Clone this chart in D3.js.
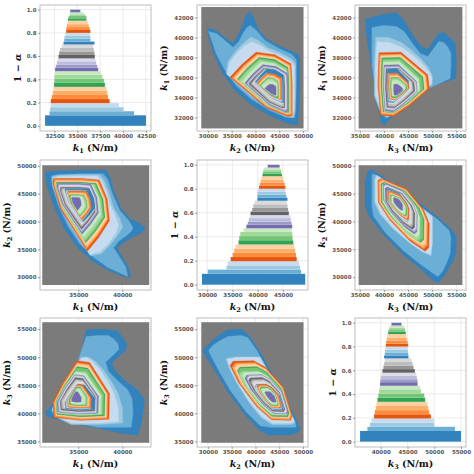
<!DOCTYPE html>
<html>
<head>
<meta charset="utf-8">
<title>fuzzy stiffness pairs</title>
<style>
  body { margin: 0; background: #fff; }
</style>
</head>
<body>
<script src="https://cdn.jsdelivr.net/npm/d3@7"></script>
<script>
// 1 - alpha : lower edge of every cut (the last one runs up to 1.0)
var levels = [0, 0.09, 0.125, 0.16, 0.195, 0.23, 0.265, 0.30, 0.335, 0.37, 0.405, 0.44,
  0.47, 0.50, 0.525, 0.555, 0.58, 0.61, 0.64, 0.67, 0.70, 0.725, 0.75, 0.775,
  0.80, 0.825, 0.85, 0.875, 0.905, 0.925, 0.945, 0.96, 0.977];

// interval of each parameter at every cut (N/m)
var k1Lo = [31470, 31950, 32020, 32100, 32100, 32210, 32320, 32390, 32460, 32500, 32500, 32570,
  32570, 32650, 32760, 32830, 32940, 33010, 33120, 33310, 33490, 33570, 33600, 33680,
  33790, 33790, 33860, 33930, 33970, 34040, 34150, 34150, 34230];
var k1Hi = [42500, 41210, 40040, 39560, 38530, 38350, 38270, 38200, 38010, 37900, 37720, 37540,
  37280, 37170, 37060, 36990, 36910, 36870, 36800, 36730, 36870, 36430, 36430, 36360,
  36430, 36360, 36250, 36140, 35990, 35990, 35880, 35700, 35330];
var k2Lo = [28990, 30140, 33850, 34060, 34660, 35070, 35340, 35610, 36220, 36350, 36560, 37230,
  37770, 38040, 38250, 38450, 38590, 38920, 39130, 39400, 39940, 39940, 39940, 40070,
  40280, 40410, 40610, 40750, 40950, 41020, 41150, 41290, 41970];
var k2Hi = [49400, 48590, 48390, 48180, 47710, 47580, 47370, 47240, 47040, 46900, 46830, 46700,
  46830, 46700, 46560, 46490, 46160, 46020, 45890, 45750, 45890, 45680, 45550, 45480,
  45480, 45350, 45140, 45010, 44800, 44670, 44670, 44530, 44330];
var k3Lo = [36130, 37500, 38000, 38250, 38750, 38880, 39060, 39190, 39380, 39560, 39690, 39750,
  39880, 39940, 40000, 40130, 40310, 40500, 40630, 40750, 40630, 40750, 40810, 40880,
  40940, 41000, 41130, 41250, 41380, 41440, 41560, 41630, 42000];
var k3Hi = [55000, 53880, 50000, 50000, 49380, 49060, 48880, 48750, 48310, 48130, 47500, 47380,
  46880, 46880, 46750, 46630, 46380, 46130, 45940, 45750, 45190, 45130, 45060, 45000,
  45130, 45000, 44880, 44750, 44690, 44560, 44500, 44380, 43880];

var tab20c = ["#3182bd", "#6baed6", "#9ecae1", "#c6dbef", "#e6550d", "#fd8d3c", "#fdae6b", "#fdd0a2",
  "#31a354", "#74c476", "#a1d99b", "#c7e9c0", "#756bb1", "#9e9ac8", "#bcbddc", "#dadaeb",
  "#636363", "#969696", "#bdbdbd", "#d9d9d9"];

// tick labels
var alphaTicks = [0, 0.2, 0.4, 0.6, 0.8, 1.0];
var diagTicks = [[32500, 35000, 37500, 40000, 42500], [30000, 35000, 40000, 45000], [40000, 45000, 50000, 55000]];
var offXTicks = [[35000, 40000], [30000, 35000, 40000, 45000, 50000], [35000, 40000, 45000, 50000, 55000]];
var offYTicks = [[32000, 34000, 36000, 38000, 40000, 42000], [30000, 35000, 40000, 45000, 50000], [35000, 40000, 45000, 50000, 55000]];

// axis ranges and the sampled grid (grey) for every parameter
var diagDomain = [[30919, 43051], [28000, 49950], [35181, 55944]];
var alphaDomain = [-0.045, 1.04];
var offDomain = [[30644, 43254], [27700, 51045], [34000, 57000]];
var gridK1 = [30900, 43050], gridK2 = [28600, 50100], gridK3 = [34750, 56250];

// outer cuts (levels 0-3) of each pair, points as [first k, second k]
var outerK1K2 = [
  [[42576, 38814], [42000, 39647], [40814, 40549], [39864, 42284], [39118, 45060], [38508, 48183], [38102, 49224],
   [35390, 49224], [32677, 49085], [31254, 48877], [31389, 46795], [32169, 42978], [33355, 38814], [34881, 35344],
   [36576, 32915], [38441, 31180], [39966, 30200], [40983, 29900], [40644, 31874], [39966, 33609], [39400, 35200],
   [39966, 36038], [40983, 37079], [42170, 37981]],
  [[41213, 38900], [40700, 40200], [39700, 42000], [38900, 44900], [38300, 47700], [37800, 48590], [35300, 48590],
   [32700, 48450], [31950, 48200], [32000, 46600], [32700, 43000], [33800, 39200], [35200, 35900], [36800, 33500],
   [38400, 31700], [39700, 30800], [40600, 30140], [40400, 31800], [39700, 33600], [39000, 35300], [39600, 36500],
   [40500, 37500], [41000, 38200]],
  [[40036, 39000], [39700, 40600], [39000, 42500], [38500, 45100], [37900, 47500], [37400, 48390], [35000, 48390],
   [32700, 48300], [32020, 48000], [32100, 46300], [32900, 43000], [34000, 39400], [35300, 36200], [36400, 33850],
   [37600, 34200], [38600, 35800], [39400, 37400]],
  [[39560, 39300], [39200, 41000], [38600, 43000], [38200, 45300], [37600, 47500], [37100, 48185], [35000, 48185],
   [32800, 48100], [32100, 47800], [32200, 46200], [33000, 43000], [34100, 39500], [35400, 36400], [36300, 34055],
   [37500, 34600], [38500, 36200], [39200, 37800]]
];
var outerK1K3 = [
  [[41831, 36096], [42237, 39110], [42509, 42535], [41661, 44248], [40204, 45960], [39119, 47673], [38780, 49043],
   [39627, 50207], [40407, 51303], [40475, 52468], [39966, 53632], [39458, 54728], [37763, 55002], [35898, 54865],
   [35390, 51440], [34712, 48015], [33356, 44590], [32169, 41850], [31254, 40138], [31491, 39453], [33697, 38425],
   [37085, 37398], [39797, 36507]],
  [[41000, 37500], [41213, 40000], [41100, 42600], [40600, 44200], [39400, 45900], [38400, 47500], [38100, 49100],
   [38900, 50300], [39600, 51400], [39500, 52400], [39000, 53300], [38400, 53875], [37200, 53875], [35900, 53700],
   [35300, 51000], [34600, 47800], [33400, 44600], [32400, 42200], [31950, 40500], [32300, 39500], [34000, 38500],
   [37200, 37500], [39700, 37500]],
  [[40036, 38300], [40000, 41000], [39500, 43600], [38700, 45800], [37800, 47800], [37000, 49200], [36200, 50000],
   [35300, 50000], [34600, 47800], [33400, 44700], [32400, 42300], [32020, 40600], [32600, 39200], [34200, 38000],
   [37500, 38000]],
  [[39560, 38600], [39500, 41200], [39000, 43700], [38300, 45800], [37500, 47700], [36600, 49300], [35900, 50000],
   [35300, 49800], [34500, 47500], [33300, 44600], [32300, 42300], [32100, 40700], [32600, 39400], [34300, 38250],
   [37500, 38250]]
];
var outerK2K3 = [
  [[49379, 37317], [48634, 38721], [46336, 42582], [43666, 46794], [40871, 51006], [38698, 53814], [37145, 55007],
   [34040, 54866], [32177, 53814], [30625, 52761], [29010, 51357], [29383, 50304], [31557, 47496], [34040, 43986],
   [37766, 39774], [40871, 36966], [42734, 36123], [47081, 36123], [48944, 36615]],
  [[48590, 37700], [47900, 39200], [45700, 43000], [43000, 47000], [40300, 51200], [38400, 53500], [37000, 53875],
   [34200, 53700], [32400, 52900], [31000, 52100], [30140, 51200], [30600, 50300], [32500, 47300], [34800, 44000],
   [38000, 40300], [41000, 37800], [43000, 37500], [47000, 37500], [48300, 37500]],
  [[48390, 38300], [47700, 39600], [45500, 43200], [43000, 47000], [41000, 50000], [36000, 50000], [33850, 49800],
   [34500, 48000], [36000, 45500], [38600, 42000], [41200, 39200], [43500, 38000], [47500, 38000]],
  [[48185, 38600], [47500, 39900], [45300, 43400], [42800, 47200], [40800, 50000], [36000, 50000], [34055, 49600],
   [34700, 47900], [36200, 45400], [38800, 42000], [41400, 39400], [43600, 38250], [47400, 38250]]
];

// shape of the inner cuts, as a fraction of each cut's two intervals
var coreK1K2 = [[0.61, 0], [0.81, 0.19], [1.0, 0.42], [0.96, 0.72], [0.82, 0.98], [0.51, 1.0], [0.01, 1.0],
  [0, 0.93], [0.14, 0.58], [0.40, 0.26]];
var coreK1K3 = [[0.5, 0], [0.99, 0.02], [1.0, 0.45], [0.65, 0.97], [0.43, 1.0], [0.17, 0.62], [0, 0.3], [0.02, 0.05]];
var coreK2K3 = [[0.976, 0], [1.0, 0.07], [0.855, 0.56], [0.57, 0.89], [0.38, 1.0], [0.047, 0.99], [0, 0.92],
  [0.14, 0.625], [0.43, 0.23], [0.67, 0.01]];

var loArr = [k1Lo, k2Lo, k3Lo], hiArr = [k1Hi, k2Hi, k3Hi];
var grids = [gridK1, gridK2, gridK3];
var pairs = {
  "0,1": { outer: outerK1K2, core: coreK1K2 },
  "0,2": { outer: outerK1K3, core: coreK1K3 },
  "1,2": { outer: outerK2K3, core: coreK2K3 }
};

var svg = d3.select('body').append('svg').attr('width', 474).attr('height', 474);

var colL = [40, 197, 355], colR = [151, 308, 466];
var rowT = [5, 160, 318], rowB = [131, 290, 447];
var serif = '"DejaVu Serif", serif';
var sans = '"DejaVu Sans", sans-serif';

function kLabel(sel, n) {
    sel.attr('font-family', serif).attr('font-weight', 'bold').attr('font-size', '9.5px').attr('fill', '#111');
    sel.append('tspan').attr('font-style', 'italic').text('k');
    sel.append('tspan').attr('font-size', '6.5px').attr('dy', 2).text(n);
    sel.append('tspan').attr('dy', -2).text(' (N/m)');
}

function styleAxis(g) {
    g.select('.domain').remove();
    g.selectAll('.tick line').attr('stroke', '#777').attr('stroke-width', 0.7);
    g.selectAll('.tick text').attr('font-family', sans).attr('font-size', '5.5px')
        .attr('font-weight', 'bold').attr('fill', '#555');
}

function drawPanel(r, c) {
    var diag = r == c;
    var x = d3.scaleLinear().domain(diag ? diagDomain[c] : offDomain[c]).range([colL[c], colR[c]]);
    var y = d3.scaleLinear().domain(diag ? alphaDomain : offDomain[r]).range([rowB[r], rowT[r]]);
    var xt = diag ? diagTicks[c] : offXTicks[c];
    var yt = diag ? alphaTicks : offYTicks[r];
    var g = svg.append('g');

    // grid
    g.selectAll('.gx').data(xt).enter().append('line')
        .attr('x1', d => x(d)).attr('x2', d => x(d)).attr('y1', rowT[r]).attr('y2', rowB[r])
        .attr('stroke', '#e3e3e3').attr('stroke-width', 0.7);
    g.selectAll('.gy').data(yt).enter().append('line')
        .attr('y1', d => y(d)).attr('y2', d => y(d)).attr('x1', colL[c]).attr('x2', colR[c])
        .attr('stroke', '#e3e3e3').attr('stroke-width', 0.7);

    if (diag) {
        var lo = loArr[c], hi = hiArr[c];
        g.selectAll('.bar').data(levels).enter().append('rect')
            .attr('x', (d, i) => x(lo[i]))
            .attr('width', (d, i) => x(hi[i]) - x(lo[i]))
            .attr('y', (d, i) => y(i + 1 < levels.length ? levels[i + 1] : 1.0))
            .attr('height', (d, i) => y(d) - y(i + 1 < levels.length ? levels[i + 1] : 1.0))
            .attr('fill', (d, i) => tab20c[i % 20]);
    } else {
        var a = Math.min(r, c), b = Math.max(r, c);
        var pair = pairs[a + ',' + b];
        // x shows parameter c, y parameter r
        var px = c == a ? 0 : 1, py = 1 - px;
        g.append('rect')
            .attr('x', x(grids[c][0])).attr('width', x(grids[c][1]) - x(grids[c][0]))
            .attr('y', y(grids[r][1])).attr('height', y(grids[r][0]) - y(grids[r][1]))
            .attr('fill', '#7b7b7b');
        var polys = pair.outer.slice();
        for (var i = pair.outer.length; i < levels.length; i++) {
            polys.push(pair.core.map(function (p) {
                return [loArr[a][i] + p[0] * (hiArr[a][i] - loArr[a][i]),
                        loArr[b][i] + p[1] * (hiArr[b][i] - loArr[b][i])];
            }));
        }
        var line = d3.line().x(p => x(p[px])).y(p => y(p[py])).curve(d3.curveLinearClosed);
        g.selectAll('.cut').data(polys).enter().append('path')
            .attr('d', line)
            .attr('fill', (d, i) => tab20c[i % 20])
            .attr('stroke', (d, i) => tab20c[i % 20])
            .attr('stroke-width', 0.4);
    }

    // frame
    g.append('rect').attr('x', colL[c]).attr('y', rowT[r])
        .attr('width', colR[c] - colL[c]).attr('height', rowB[r] - rowT[r])
        .attr('fill', 'none').attr('stroke', '#b5b5b5').attr('stroke-width', 0.9);

    var xa = g.append('g').attr('transform', 'translate(0,' + rowB[r] + ')')
        .call(d3.axisBottom(x).tickValues(xt).tickSize(2).tickPadding(1.5).tickFormat(d3.format('d')));
    styleAxis(xa);
    var ya = g.append('g').attr('transform', 'translate(' + colL[c] + ',0)')
        .call(d3.axisLeft(y).tickValues(yt).tickSize(2).tickPadding(1.5)
            .tickFormat(diag ? d3.format('.1f') : d3.format('d')));
    styleAxis(ya);

    var cx = (colL[c] + colR[c]) / 2, cy = (rowT[r] + rowB[r]) / 2;
    g.append('text').attr('x', cx).attr('y', rowB[r] + 20).attr('text-anchor', 'middle')
        .call(kLabel, String(c + 1));

    var yl = g.append('text').attr('text-anchor', 'middle')
        .attr('transform', 'translate(' + (colL[c] - (diag ? 19 : 30)) + ',' + cy + ') rotate(-90)');
    if (diag) {
        yl.attr('font-family', serif).attr('font-weight', 'bold').attr('font-size', '9.5px').attr('fill', '#111');
        yl.append('tspan').text('1 \u2212 ');
        yl.append('tspan').attr('font-style', 'italic').text('\u03b1');
    } else {
        yl.call(kLabel, String(r + 1));
    }
}

for (var r = 0; r < 3; r++) {
    for (var c = 0; c < 3; c++) {
        drawPanel(r, c);
    }
}
</script>
</body>
</html>
